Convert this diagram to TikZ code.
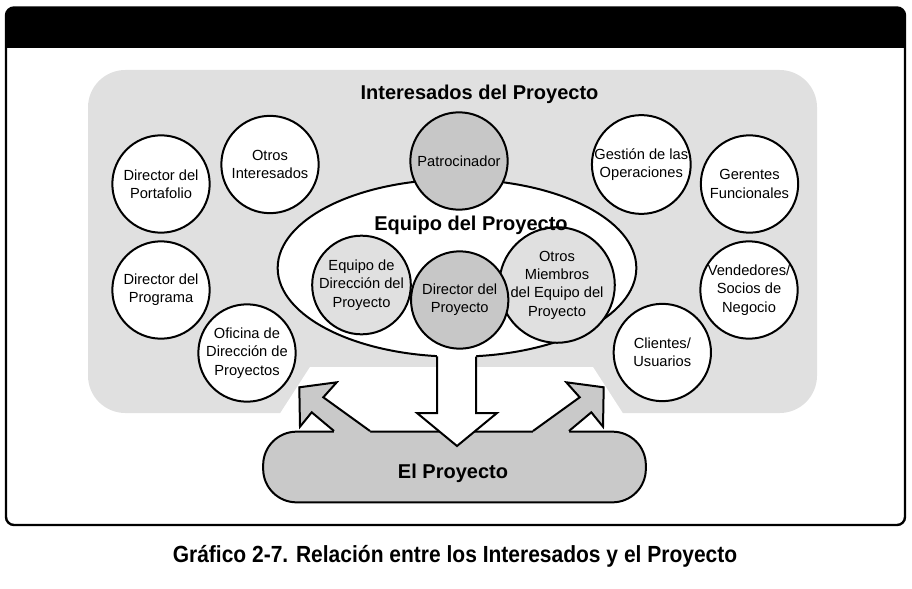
\documentclass[tikz,border=0pt]{standalone}
\usepackage{fontspec}
\setmainfont{Liberation Sans}
\newfontfamily\capfont[FakeStretch=0.9]{Liberation Sans Bold}
\usepackage{tikz}
\usetikzlibrary{shapes.geometric}

\begin{document}
\begin{tikzpicture}[x=0.75pt, y=-0.75pt,
      % one unit is one pixel of the reference, y runs downwards
      stakeholder/.style={circle, draw=black, fill=white, line width=1.5pt,
      minimum size=73pt, inner sep=0pt, align=center,
      font=\fontsize{11pt}{13.8pt}\selectfont},
      keyrole/.style={stakeholder, fill=black!22},
      teamrole/.style={stakeholder, fill=black!12},
      heading/.style={anchor=base, font=\fontsize{15pt}{18pt}\selectfont\bfseries},
      blockarrow/.style={line width=1.5pt, line join=miter} ]
    \useasboundingbox (0,0) rectangle (912,588);

    % Frame with black header
    \begin{scope}
      \clip[rounded corners=6pt] (6,7.5) rectangle (905,525);
      \fill[black] (0,0) rectangle (912,48.5);
    \end{scope}
    \draw[line width=1.8pt, rounded corners=6pt] (6,7.5) rectangle (905,525);

    % Stakeholder area with the notch above the project
    \fill[black!12, rounded corners=28pt] (88,70) rectangle (817,413);
    \fill[white] (279,415) -- (310,367) -- (593,367) -- (624,415) -- cycle;

    % The project
    \node[draw, line width=1.5pt, fill=black!21, rounded corners=25pt,
    minimum width=287pt, minimum height=53pt, inner sep=0pt] (proj) at
    (454.5,467) {}; \node[heading] (projlabel) at (453,478) {El Proyecto};

    % Arrows from the project to the stakeholders
    \fill[black!21] (334,431) -- (311.7,412.3) -- (300,426.7) -- (299.3,387.3)
    -- (336.7,382.3) -- (323.3,397.3) -- (370,431) -- (370,434) -- (334,434)
    -- cycle; \draw[blockarrow] (334,431) -- (311.7,412.3) -- (300,426.7) --
    (299.3,387.3) -- (336.7,382.3) -- (323.3,397.3) -- (370,431);
    \fill[black!21] (569,431) -- (591.3,412.3) -- (603,426.7) -- (603.7,387.3)
    -- (566.3,382.3) -- (579.7,397.3) -- (533,431) -- (533,434) -- (569,434)
    -- cycle; \draw[blockarrow] (569,431) -- (591.3,412.3) -- (603,426.7) --
    (603.7,387.3) -- (566.3,382.3) -- (579.7,397.3) -- (533,431);

    % Project team
    \node[ellipse, draw, line width=1.5pt, fill=white, minimum width=269pt,
    minimum height=133pt, inner sep=0pt] (team) at (457,268) {};

    % Arrow from the team to the project
    \fill[white] (437,352.5) -- (437,413) -- (417,413) -- (457,446) --
    (497,413) -- (476,413) -- (476,352.5) -- cycle; \draw[blockarrow]
    (437,356.4) -- (437,413) -- (417,413) -- (457,446) -- (497,413) --
    (476,413) -- (476,356.5);

    % Stakeholders
    \node[stakeholder] (portfolio) at (161,184) {Director del\\Portafolio};
    \node[stakeholder] (others) at (270,164.5) {Otros\\Interesados};
    \node[stakeholder] (program) at (161,290) {Director del\\Programa};
    \node[stakeholder] (pmo) at (247,353) {Oficina de\\Dirección de\\Proyectos};
    \node[keyrole] (sponsor) at (459,161) {Patrocinador};
    \node[stakeholder] (operations) at (641.3,164.5) {Gestión de las\\Operaciones};
    \node[stakeholder] (functional) at (749.5,184) {Gerentes\\Funcionales};
    \node[stakeholder] (sellers) at (749,290) {Vendedores/\\Socios de\\Negocio};
    \node[stakeholder] (customers) at (662.3,352.5) {Clientes/\\Usuarios};

    % Team members
    \node[teamrole] (mgmtteam) at (361.5,285) {Equipo de\\Dirección del\\Proyecto};
    \node[teamrole] (members) at (557,285) {Otros\\Miembros\\del Equipo del\\Proyecto};
    \node[keyrole] (pm) at (459.7,300) {Director del\\Proyecto};

    % Titles
    \node[heading] (areatitle) at (479.5,100) {Interesados del Proyecto};
    \node[heading] (teamtitle) at (471,230) {Equipo del Proyecto};

    % Caption
    \node[anchor=base, font=\capfont\fontsize{17.5pt}{21pt}\selectfont]
    (caption) at (455,562) {Gráfico 2-7. Relación entre los Interesados y el
    Proyecto};

    \end{tikzpicture}
\end{document}
